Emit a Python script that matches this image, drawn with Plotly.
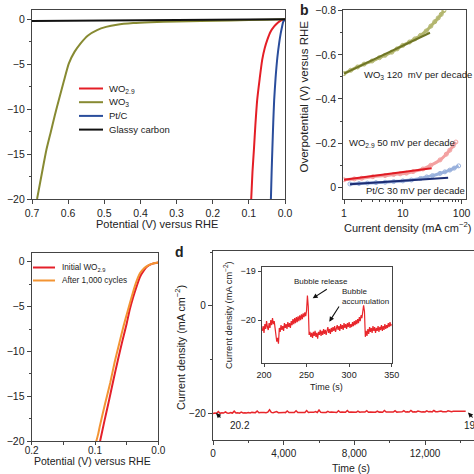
import plotly.graph_objects as go

W = H = 474
FONT = "Liberation Sans, Arial, sans-serif"
TXT = "#222222"
AX = "#444444"


def px(x):
    return x / W


def py(y):
    return 1 - y / H


# ---------------- Panel a: polarization curves ----------------
a_wo29_v = [0.0935, 0.090, 0.086, 0.082, 0.077, 0.070, 0.063, 0.056, 0.049, 0.040, 0.030, 0.020, 0.012, 0.0]
a_wo29_j = [-20, -17, -14.5, -11.8, -9.0, -6.6, -4.5, -3.2, -2.3, -1.4, -0.8, -0.4, -0.15, 0.0]
a_wo3_v = [0.686, 0.672, 0.660, 0.649, 0.637, 0.626, 0.612, 0.598, 0.582, 0.566, 0.545, 0.520, 0.495,
           0.465, 0.420, 0.372, 0.300, 0.234, 0.150, 0.050, 0.0]
a_wo3_j = [-20, -17, -14.5, -12.7, -10.7, -9.0, -6.9, -4.9, -3.6, -2.7, -1.8, -1.2, -0.85,
           -0.6, -0.42, -0.33, -0.25, -0.2, -0.13, -0.05, 0.0]
a_ptc_v = [0.039, 0.037, 0.035, 0.0325, 0.030, 0.026, 0.021, 0.016, 0.012, 0.008, 0.005, 0.0]
a_ptc_j = [-20, -17, -14.5, -11.5, -9.0, -6.5, -4.2, -2.6, -1.6, -0.8, -0.3, 0.0]
a_gc_v = [0.70, 0.50, 0.30, 0.10, 0.0]
a_gc_j = [-0.2, -0.15, -0.1, -0.05, 0.0]

# ---------------- Panel b: Tafel plots ----------------
b_wo3_data_j = [1.0, 1.3, 1.7, 2.2, 3, 4, 5, 6.5, 8, 10, 13, 16, 20, 25, 30, 35, 40, 45, 50]
b_wo3_data_eta = [-0.515, -0.53, -0.545, -0.558, -0.572, -0.587, -0.598, -0.612, -0.627, -0.643,
                  -0.658, -0.672, -0.688, -0.708, -0.73, -0.75, -0.767, -0.783, -0.80]
b_wo3_fit_j = [1.0, 29]
b_wo3_fit_eta = [-0.515, -0.70]
b_wo29_data_j = [1.0, 1.5, 2, 3.1, 5, 7, 9, 11.5, 15, 22, 30, 43, 55, 63, 72, 80]
b_wo29_data_eta = [-0.034, -0.038, -0.041, -0.048, -0.053, -0.058, -0.061, -0.064, -0.071, -0.083,
                   -0.10, -0.124, -0.15, -0.168, -0.188, -0.205]
b_wo29_fit_j = [1.0, 31]
b_wo29_fit_eta = [-0.034, -0.086]
b_ptc_data_j = [1.26, 1.8, 2.5, 3.5, 5, 7, 10, 14, 20, 25.5, 32, 43, 52, 63, 75, 89]
b_ptc_data_eta = [-0.015, -0.017, -0.019, -0.021, -0.023, -0.026, -0.029, -0.033, -0.040, -0.047,
                  -0.053, -0.063, -0.070, -0.078, -0.087, -0.097]
b_ptc_fit_j = [1.26, 59]
b_ptc_fit_eta = [-0.0136, -0.043]

# ---------------- Panel c: stability polarization ----------------
c_init_v = [0.092, 0.085, 0.078, 0.071, 0.064, 0.057, 0.050, 0.045, 0.0395, 0.034, 0.029, 0.023, 0.018, 0.010, 0.0]
c_init_j = [-20, -17.7, -15.5, -13.2, -11.0, -8.9, -6.9, -5.3, -3.9, -2.7, -1.7, -1.0, -0.56, -0.25, -0.1]
c_after_v = [0.098, 0.095, 0.092, 0.084, 0.076, 0.069, 0.062, 0.055, 0.048, 0.042, 0.036, 0.029, 0.022, 0.016, 0.008, 0.0]
c_after_j = [-20, -19.2, -18.2, -15.8, -13.5, -11.2, -9.2, -7.2, -5.4, -3.9, -2.5, -1.3, -0.7, -0.4, -0.2, -0.1]

# ---------------- Panel d: chronoamperometry ----------------
d_t = list(range(0, 14400, 100))
d_j = [
    -20.05, -19.95, -20.00, -19.70, -20.02, -19.92, -19.98, -19.75, -19.96, -20.00,
    -19.90, -19.98, -19.62, -19.95, -19.92, -19.99, -19.80, -19.94, -19.90, -19.97,
    -19.88, -19.95, -19.85, -19.93, -19.90, -19.60, -19.92, -19.88, -19.94, -19.86,
    -19.90, -19.80, -19.35, -19.85, -19.92, -19.88, -19.70, -19.90, -19.86, -19.91,
    -19.85, -19.89, -19.60, -19.88, -19.84, -19.90, -19.86, -19.55, -19.88, -19.85,
    -19.89, -19.84, -19.88, -19.50, -19.86, -19.82, -19.88, -19.84, -19.70, -19.86,
    -19.40, -19.84, -19.86, -19.82, -19.87, -19.65, -19.84, -19.80, -19.86, -19.83,
    -19.86, -19.55, -19.84, -19.80, -19.85, -19.82, -19.50, -19.84, -19.80, -19.85,
    -19.82, -19.84, -19.60, -19.82, -19.78, -19.84, -19.80, -19.55, -19.83, -19.79,
    -19.82, -19.78, -19.82, -19.60, -19.80, -19.76, -19.82, -19.50, -19.78, -19.80,
    -19.76, -19.80, -19.78, -19.55, -19.80, -19.76, -19.78, -19.74, -19.52, -19.78,
    -19.74, -19.78, -19.50, -19.76, -19.72, -19.78, -19.60, -19.74, -19.76, -19.72,
    -19.76, -19.55, -19.74, -19.70, -19.76, -19.50, -19.72, -19.74, -19.70, -19.60,
    -19.72, -19.68, -19.74, -19.55, -19.70, -19.72, -19.66, -19.70, -19.68, -19.66,
    -19.64, -19.68, -19.62, -19.62,
]
inset_t = list(range(198, 351))
inset_j = [
    -20.22, -20.12, -20.26, -20.08, -20.18, -20.02, -20.14, -20.20, -20.06, -20.16,
    -20.00, -20.10, -19.96, -20.08, -20.02, -20.14, -20.28, -20.44, -20.36, -20.48,
    -20.16, -20.24, -20.10, -20.20, -20.12, -20.22, -20.06, -20.16, -20.08, -20.18,
    -20.04, -20.14, -20.06, -20.16, -20.02, -20.10, -19.98, -20.08, -19.96, -20.06,
    -19.94, -20.04, -19.92, -20.02, -19.90, -20.00, -19.88, -19.98, -19.86, -19.94,
    -19.84, -19.92, -19.80, -19.50, -19.72, -20.30, -20.24, -20.34, -20.26, -20.36,
    -20.24, -20.32, -20.22, -20.34, -20.26, -20.38, -20.24, -20.30, -20.20, -20.32,
    -20.22, -20.30, -20.18, -20.28, -20.20, -20.30, -20.22, -20.14, -20.26, -20.18,
    -20.28, -20.16, -20.24, -20.14, -20.22, -20.12, -20.24, -20.16, -20.10, -20.20,
    -20.12, -20.22, -20.08, -20.18, -20.10, -20.20, -20.06, -20.16, -20.08, -20.18,
    -20.06, -20.14, -20.04, -20.16, -20.08, -20.14, -20.04, -20.12, -20.02, -20.10,
    -20.00, -20.08, -19.98, -20.06, -19.94, -20.02, -19.90, -19.96, -19.86, -19.70,
    -19.82, -20.34, -20.22, -20.32, -20.18, -20.28, -20.14, -20.24, -20.16, -20.26,
    -20.12, -20.22, -20.14, -20.26, -20.16, -20.22, -20.12, -20.24, -20.14, -20.20,
    -20.10, -20.22, -20.12, -20.20, -20.08, -20.18, -20.10, -20.16, -20.06, -20.14,
    -20.04, -20.12, -20.08,
]

RED = "#e41e26"
OLIVE = "#878a32"
BLUE = "#2a4d9c"

fig = go.Figure()

# panel a
fig.add_trace(go.Scatter(x=a_wo29_v, y=a_wo29_j, name="WO2.9", mode="lines", line=dict(color=RED, width=2, shape="spline", smoothing=0.6), xaxis="x", yaxis="y"))
fig.add_trace(go.Scatter(x=a_wo3_v, y=a_wo3_j, name="WO3", mode="lines", line=dict(color=OLIVE, width=2, shape="spline", smoothing=0.6), xaxis="x", yaxis="y"))
fig.add_trace(go.Scatter(x=a_ptc_v, y=a_ptc_j, name="Pt/C", mode="lines", line=dict(color=BLUE, width=2, shape="spline", smoothing=0.6), xaxis="x", yaxis="y"))
fig.add_trace(go.Scatter(x=a_gc_v, y=a_gc_j, name="Glassy carbon", mode="lines", line=dict(color="#111111", width=2), xaxis="x", yaxis="y"))

# panel b
for dj, de, fj, fe, light, dark in [
    (b_wo3_data_j, b_wo3_data_eta, b_wo3_fit_j, b_wo3_fit_eta, "#b3b66e", "#6f7526"),
    (b_wo29_data_j, b_wo29_data_eta, b_wo29_fit_j, b_wo29_fit_eta, "#f3a0a0", "#e01b24"),
    (b_ptc_data_j, b_ptc_data_eta, b_ptc_fit_j, b_ptc_fit_eta, "#98b0dc", "#1c2d74"),
]:
    fig.add_trace(go.Scatter(x=dj, y=de, mode="lines+markers", line=dict(color=light, width=3, shape="spline"),
                             marker=dict(symbol="circle-open", size=4, color=light), xaxis="x2", yaxis="y2", showlegend=False))
    fig.add_trace(go.Scatter(x=fj, y=fe, mode="lines", line=dict(color=dark, width=2), xaxis="x2", yaxis="y2", showlegend=False))

# panel c
fig.add_trace(go.Scatter(x=c_init_v, y=c_init_j, name="Initial WO2.9", mode="lines", line=dict(color="#e4202a", width=2, shape="spline", smoothing=0.6), xaxis="x3", yaxis="y3"))
fig.add_trace(go.Scatter(x=c_after_v, y=c_after_j, name="After 1,000 cycles", mode="lines", line=dict(color="#f39433", width=2, shape="spline", smoothing=0.6), xaxis="x3", yaxis="y3"))

# panel d
fig.add_trace(go.Scatter(x=d_t, y=d_j, mode="lines", line=dict(color="#e8262b", width=1.5), xaxis="x4", yaxis="y4", showlegend=False))
fig.add_trace(go.Scatter(x=inset_t, y=inset_j, mode="lines", line=dict(color="#e8262b", width=1.2), xaxis="x5", yaxis="y5", showlegend=False))


def axis(domain, rng, anchor, tickvals=None, ticktext=None, minor=None, size=10.5, minorlen=2, **kw):
    d = dict(domain=domain, range=rng, anchor=anchor, showline=True, linecolor=AX, linewidth=1.2, mirror=True,
             ticks="outside", ticklen=4, tickcolor=AX, tickwidth=1, showgrid=False, zeroline=False,
             automargin=False, tickfont=dict(family=FONT, size=size, color=TXT))
    if tickvals is not None:
        d["tickmode"] = "array"
        d["tickvals"] = tickvals
    if ticktext is not None:
        d["ticktext"] = ticktext
    if minor is not None:
        d["minor"] = dict(tickmode="array", tickvals=minor, ticks="outside", ticklen=minorlen, tickcolor=AX, showgrid=False)
    d.update(kw)
    return d


fig.update_layout(
    width=W, height=H, margin=dict(l=0, r=0, t=0, b=0, pad=0, autoexpand=False),
    paper_bgcolor="white", plot_bgcolor="rgba(0,0,0,0)", showlegend=False,
    font=dict(family=FONT, color=TXT),
    xaxis=axis([px(32), px(285)], [0.7, 0.0], "y", tickvals=[0.7, 0.6, 0.5, 0.4, 0.3, 0.2, 0.1, 0.0], tickformat=".1f"),
    yaxis=axis([py(199), py(10)], [-20, 1.03], "x", tickvals=[0, -5, -10, -15, -20], minor=[-2.5, -7.5, -12.5, -17.5]),
    xaxis2=axis([px(343.3), px(465.7)], [-0.012, 2.07], "y2", type="log", tickvals=[1, 10, 100], ticktext=["1", "10", "100"],
                minor=[2, 3, 4, 5, 6, 7, 8, 9, 20, 30, 40, 50, 60, 70, 80, 90]),
    yaxis2=axis([py(199), py(10)], [0.053, -0.803], "x2", tickvals=[-0.8, -0.6, -0.4, -0.2, 0], ticktext=["−0.8", "−0.6", "−0.4", "−0.2", "0"],
                minor=[-0.7, -0.5, -0.3, -0.1]),
    xaxis3=axis([px(31.7), px(158.3)], [0.2, 0.0], "y3", tickvals=[0.2, 0.1, 0.0], tickformat=".1f",
                minor=[0.2, 0.15, 0.1, 0.05, 0.0], minorlen=3, size=10, ticklen=0),
    yaxis3=axis([py(441.3), py(252.7)], [-20, 1.0], "x3", tickvals=[0, -5, -10, -15, -20], minor=[-2.5, -7.5, -12.5, -17.5]),
    xaxis4=axis([px(213), 1.0], [0, 14770], "y4", tickvals=[0, 4000, 8000, 12000], ticktext=["0", "4,000", "8,000", "12,000"],
                minor=[2000, 6000, 10000, 14000], size=10),
    yaxis4=axis([py(440), py(250.7)], [-25, 10.3], "x4", tickvals=[0, -20], minor=[10, -10], size=10),
    xaxis5=axis([px(261.7), px(391.7)], [197.3, 350], "y5", tickvals=[200, 250, 300, 350], size=9, ticklen=3),
    yaxis5=axis([py(363.3), py(266.7)], [-20.88, -18.91], "x5", tickvals=[-19, -20], size=9, ticklen=3),
)

ann = []


def text(x, y, s, size=11, anchor="center", angle=0, bold=False, align="left"):
    ann.append(dict(x=px(x), y=py(y), xref="paper", yref="paper", text=("<b>%s</b>" % s) if bold else s,
                    showarrow=False, xanchor=anchor, yanchor="middle", textangle=angle, align=align,
                    font=dict(family=FONT, size=size, color=TXT)))


def arrow(x, y, ax, ay):
    ann.append(dict(x=px(x), y=py(y), xref="paper", yref="paper", text="", showarrow=True, ax=ax, ay=ay,
                    arrowhead=2, arrowsize=0.9, arrowwidth=1.1, arrowcolor="#111111"))


# axis titles
text(156.7, 224, "Potential (V) versus RHE", 11)
text(407.5, 226.5, "Current density (mA cm<sup>−2</sup>)", 11)
text(303.5, 97, "Overpotential (V) versus RHE", 11.5, angle=-90)
text(92.5, 461, "Potential (V) versus RHE", 10.5)
text(350.7, 468, "Time (s)", 10.5)
text(180, 348, "Current density (mA cm<sup>−2</sup>)", 10.8, angle=-90)
text(326.7, 386.7, "Time (s)", 9)
text(228, 315, "Current density (mA cm<sup>−2</sup>)", 9.3, angle=-90)

# panel labels
text(304, 10, "b", 14, bold=True)
text(179, 252, "d", 14, bold=True)

# panel b labels
text(361.7, 75, "WO<sub>3</sub> 120  mV per decade", 9.5, anchor="left")
text(346.7, 142.7, "WO<sub>2.9</sub> 50 mV per decade", 9.5, anchor="left")
text(364, 190.7, "Pt/C 30 mV per decade", 9.5, anchor="left")

# panel d annotations
text(291.7, 281.7, "Bubble release", 8, anchor="left")
arrow(312.7, 298.3, 15.6, -10)
text(340, 296.5, "Bubble<br>accumulation", 8, anchor="left")
arrow(329.3, 321.7, 10.7, -16.7)
text(228, 425.7, "20.2", 10, anchor="left")
arrow(216, 413, 6, 6)
text(462, 425.7, "19", 10, anchor="left")
arrow(468, 412.5, 8, 6.5)

# legends (panel a)
shapes = []
leg_a = [("WO<sub>2.9</sub>", RED), ("WO<sub>3</sub>", OLIVE), ("Pt/C", BLUE), ("Glassy carbon", "#111111")]
for i, (lab, col) in enumerate(leg_a):
    yy = 88.5 + i * 13.7
    shapes.append(dict(type="line", xref="paper", yref="paper", x0=px(79), x1=px(103), y0=py(yy), y1=py(yy),
                       line=dict(color=col, width=2)))
    text(107, yy, lab, 9.5, anchor="left")
leg_c = [("Initial WO<sub>2.9</sub>", "#e4202a"), ("After 1,000 cycles", "#f39433")]
for i, (lab, col) in enumerate(leg_c):
    yy = 267.5 + i * 13
    shapes.append(dict(type="line", xref="paper", yref="paper", x0=px(33), x1=px(55), y0=py(yy), y1=py(yy),
                       line=dict(color=col, width=2)))
    text(60, yy, lab, 8.2, anchor="left")

fig.update_layout(annotations=ann, shapes=shapes)
fig.write_html("out.html")
